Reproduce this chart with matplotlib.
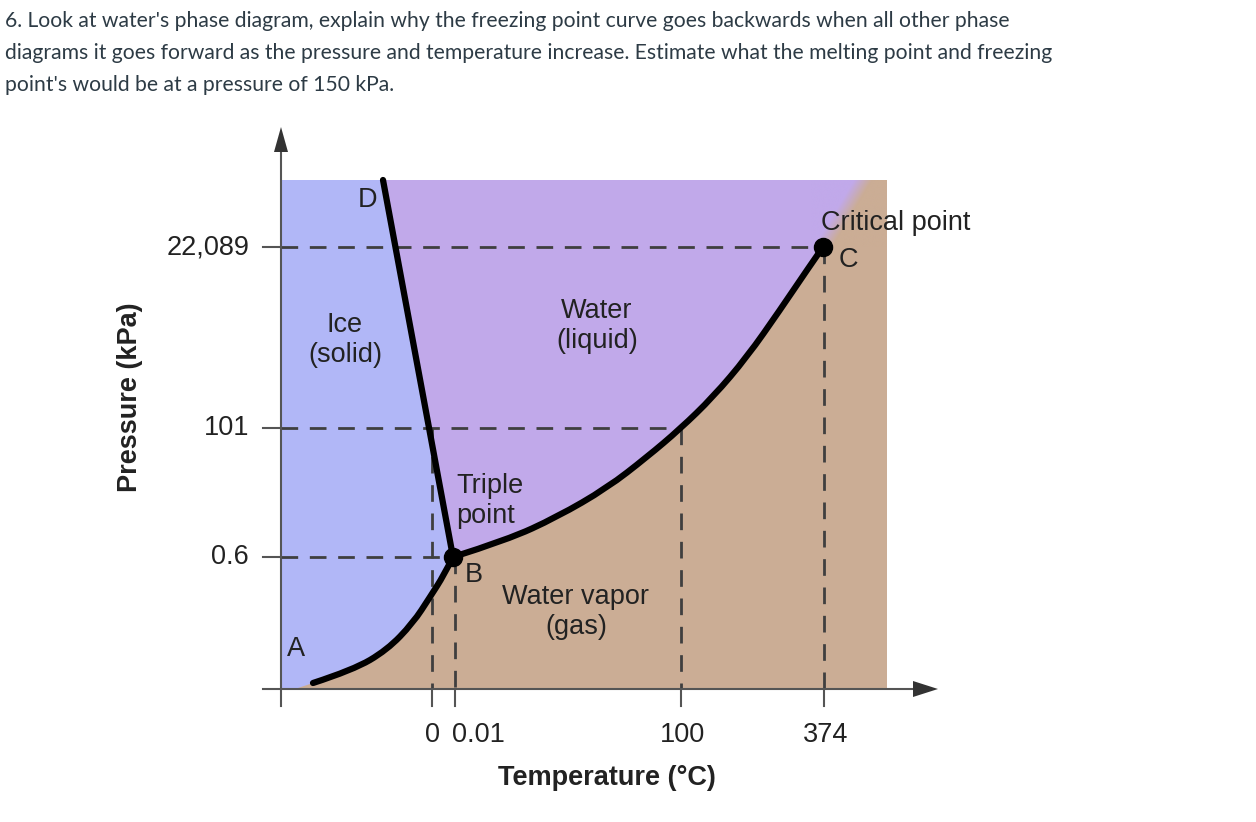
import numpy as np
import matplotlib.pyplot as plt
from matplotlib.colors import to_rgb
from matplotlib.path import Path
from matplotlib.patches import PathPatch

QUESTION = [
    "6. Look at water's phase diagram, explain why the freezing point curve goes backwards when all other phase",
    "diagrams it goes forward as the pressure and temperature increase. Estimate what the melting point and freezing",
    "point's would be at a pressure of 150 kPa.",
]

# schematic axis: label -> position on the drawn axis
T_LABELS = ["0", "0.01", "100", "374"]
T_POS = [151, 174, 400, 543]
P_LABELS = ["0.6", "101", "22,089"]
P_POS = [132, 261, 442]

# phase boundaries (schematic units)
sub_x = [32, 72, 106, 132, 149, 163, 172]
sub_y = [6, 19, 39, 66, 92, 114, 132]
vap_x = [172, 226, 276, 326, 366, 399, 432, 466, 499, 526, 542]
vap_y = [132, 149, 172, 201, 232, 260, 292, 332, 379, 419, 442]
fus_x = [172, 102]
fus_y = [132, 509]
triple = (172, 132)
critical = (542, 442)

X_MAX, Y_MAX = 606, 509

C_ICE = "#b1b7f7"
C_LIQ = "#c1a9ea"
C_VAP = "#cbad95"
C_DASH = "#3f3f3f"
C_AXIS = "#555555"
C_TEXT = "#222222"

plt.rcParams["font.family"] = ["Liberation Sans", "DejaVu Sans"]


def smooth(xs, ys):
    # quadratic bezier chain using the read points as control points
    pts = list(zip(xs, ys))
    verts = [pts[0]]
    codes = [Path.MOVETO]
    for i in range(1, len(pts) - 1):
        if i == len(pts) - 2:
            end = pts[i + 1]
        else:
            end = ((pts[i][0] + pts[i + 1][0]) / 2, (pts[i][1] + pts[i + 1][1]) / 2)
        verts += [pts[i], end]
        codes += [Path.CURVE3, Path.CURVE3]
    if len(pts) == 2:
        verts.append(pts[1])
        codes.append(Path.LINETO)
    return Path(verts, codes)


fig = plt.figure(figsize=(12.56, 8.22), dpi=100)
ax = fig.add_axes([0, 0, 1, 1])
ax.set_xlim(-281, 975)
ax.set_ylim(-133, 689)
ax.axis("off")

# background regions
ax.fill([0, X_MAX, X_MAX, 0], [0, 0, Y_MAX, Y_MAX], color=C_VAP, lw=0, zorder=1)
ice_x = [0, 14] + sub_x + fus_x[1:] + [0]
ice_y = [0, 0] + sub_y + fus_y[1:] + [Y_MAX]
ax.fill(ice_x, ice_y, color=C_ICE, lw=0, zorder=2)
top_sc = 582  # where the liquid/gas blend reaches the top
liq_x = fus_x + [top_sc] + vap_x[::-1]
liq_y = fus_y + [Y_MAX] + vap_y[::-1]
ax.fill(liq_x, liq_y, color=C_LIQ, lw=0, zorder=2)

# supercritical blend above the critical point
gx0, gx1 = 530, X_MAX
gy0, gy1 = critical[1], Y_MAX
gx = np.linspace(gx0, gx1, 160)
gy = np.linspace(gy0, gy1, 140)
GX, GY = np.meshgrid(gx, gy)
xl = critical[0] + (GY - critical[1]) * (top_sc - critical[0]) / (Y_MAX - critical[1])
t = np.clip((GX - xl + 9) / 18, 0, 1)[..., None]
img = (1 - t) * np.array(to_rgb(C_LIQ)) + t * np.array(to_rgb(C_VAP))
ax.imshow(img, extent=[gx0, gx1, gy0, gy1], origin="lower", aspect="auto",
          interpolation="bilinear", zorder=3)

# dashed guides
dash = dict(color=C_DASH, lw=2.0, dashes=(6.0, 4.2), zorder=4)
ax.plot([0, critical[0]], [P_POS[2], P_POS[2]], **dash)
ax.plot([0, T_POS[2]], [P_POS[1], P_POS[1]], **dash)
ax.plot([0, triple[0]], [P_POS[0], P_POS[0]], **dash)
ax.plot([T_POS[0], T_POS[0]], [P_POS[1], 0], **dash)
ax.plot([T_POS[1], T_POS[1]], [P_POS[0], 0], **dash)
ax.plot([T_POS[2], T_POS[2]], [P_POS[1], 0], **dash)
ax.plot([T_POS[3], T_POS[3]], [P_POS[2], 0], **dash)

# axes with arrows and ticks
ax.plot([0, 0], [-17, 540], color=C_AXIS, lw=1.5, zorder=5)
ax.plot([-18, 635], [0, 0], color=C_AXIS, lw=1.5, zorder=5)
ax.fill([-7, 7, 0], [537, 537, 562], color="#333333", lw=0, zorder=5)
ax.fill([632, 632, 657], [-8, 8, 0], color="#333333", lw=0, zorder=5)
for p in P_POS:
    ax.plot([-18, 0], [p, p], color=C_AXIS, lw=1.5, zorder=5)
for x in T_POS:
    ax.plot([x, x], [0, -17], color=C_AXIS, lw=1.5, zorder=5)

# phase boundaries
for xs, ys in [(sub_x, sub_y), (vap_x, vap_y), (fus_x, fus_y)]:
    ax.add_patch(PathPatch(smooth(xs, ys), fill=False, ec="black", lw=4.5,
                           capstyle="round", joinstyle="round", zorder=6))
ax.plot(*triple, "o", color="black", ms=13, zorder=7)
ax.plot(*critical, "o", color="black", ms=13, zorder=7)

# tick labels
fs = 19.5
for lab, p in zip(P_LABELS, P_POS):
    ax.text(-32, p, lab, ha="right", va="center", fontsize=fs, color=C_TEXT)
t_offsets = [0, 23, 1, 2]
for lab, x, dx in zip(T_LABELS, T_POS, t_offsets):
    ax.text(x + dx, -46, lab, ha="center", va="center", fontsize=fs, color=C_TEXT)

ax.text(326, -89, "Temperature (°C)", ha="center", va="center", fontsize=fs,
        fontweight="bold", color=C_TEXT)
ax.text(-151, 292, "Pressure (kPa)", ha="center", va="center", fontsize=fs,
        fontweight="bold", rotation=90, color=C_TEXT)

# region and point labels
lbl = dict(fontsize=fs, color=C_TEXT, zorder=8, linespacing=1.2)
ax.text(86, 489, "D", ha="center", va="center", **lbl)
ax.text(64, 349, "Ice\n(solid)", ha="center", va="center", **lbl)
ax.text(316, 363, "Water\n(liquid)", ha="center", va="center", **lbl)
ax.text(175, 188, "Triple\npoint", ha="left", va="center", **lbl)
ax.text(193, 114, "B", ha="center", va="center", **lbl)
ax.text(295, 77, "Water vapor\n(gas)", ha="center", va="center", **lbl)
ax.text(15, 40, "A", ha="center", va="center", **lbl)
ax.text(540, 466, "Critical point", ha="left", va="center", **lbl)
ax.text(567, 429, "C", ha="center", va="center", **lbl)

# question text
for i, line in enumerate(QUESTION):
    fig.text(5 / 1256, 1 - (21 + 32 * i) / 822, line, ha="left", va="center",
             fontsize=15.2, family=["Lato", "DejaVu Sans"], color="#2d3b45")

fig.savefig("out.png", dpi=100)
